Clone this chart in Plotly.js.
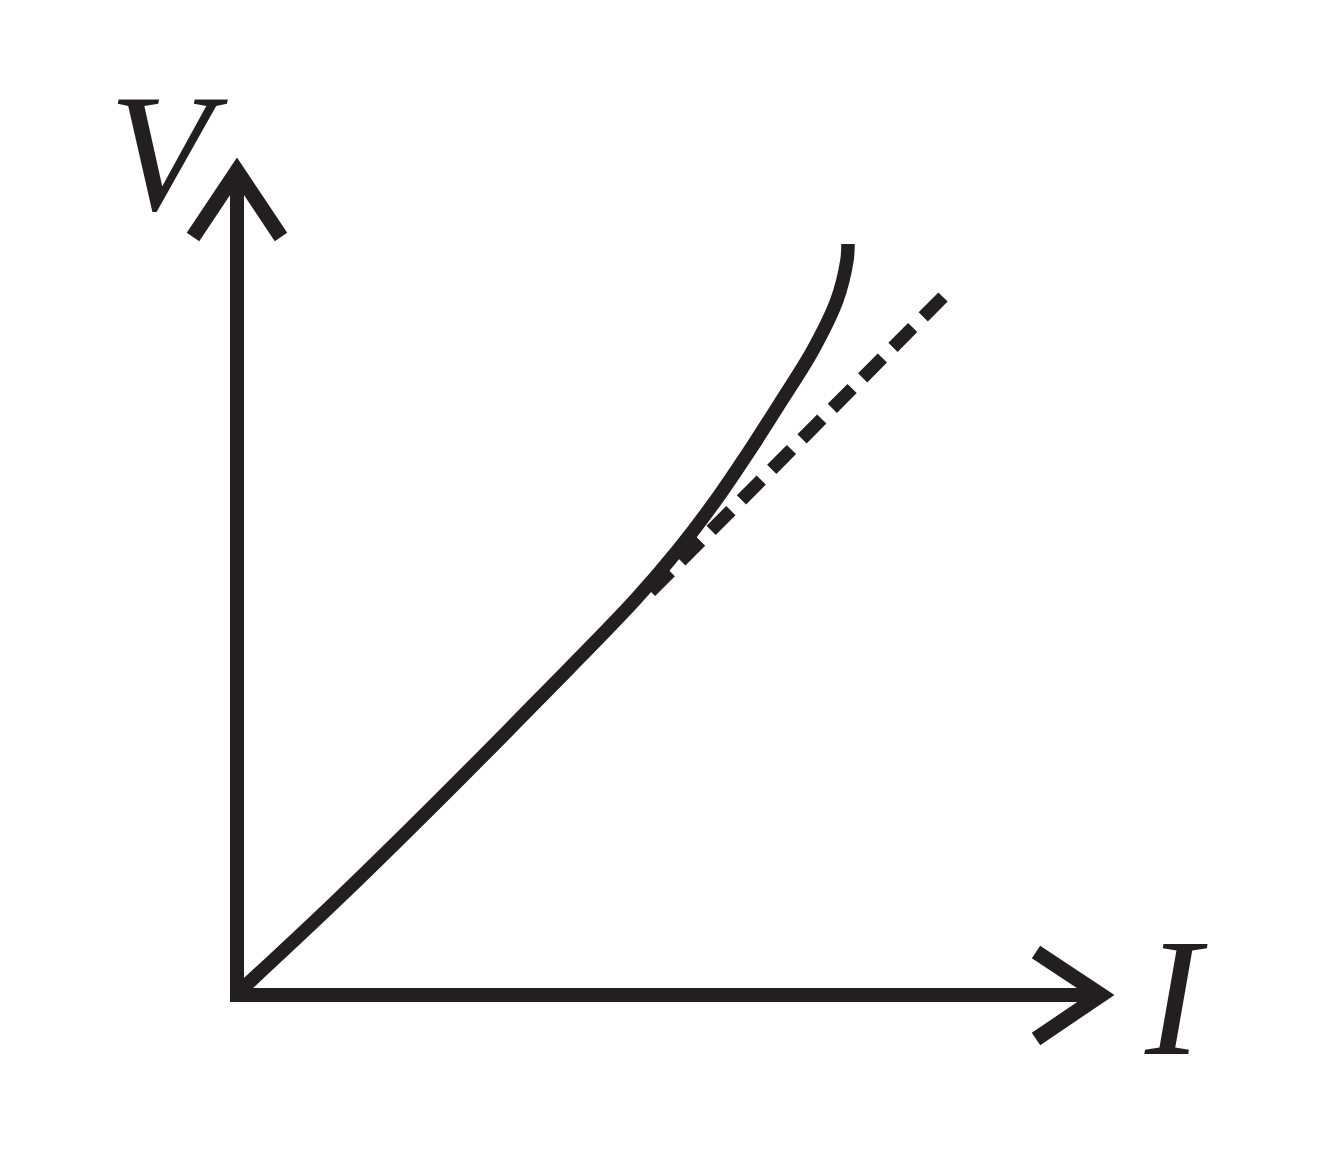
<!DOCTYPE html>
<html>
<head>
<meta charset="utf-8">
<script src="https://cdn.plot.ly/plotly-3.0.1.min.js"></script>
<style>
  html, body { margin: 0; padding: 0; background: #fff; }
  #chart { width: 1344px; height: 1160px; }
</style>
</head>
<body>
<div id="chart"></div>
<script>
// V-I curve (current I on x, voltage V on y), origin at the axes corner
const curveI = [4, 100, 202, 301, 398, 441, 479, 513, 545, 576, 600, 610, 611];
const curveV = [5, 95, 195, 295, 395, 445, 495, 545, 595, 645, 695, 735, 751];

// straight (ohmic) extension, drawn dashed, listed from its upper end
const tangentI = [706, 408];
const tangentV = [698, 398];

// axes and their open arrowheads
const axisVI = [0, 0];
const axisVV = [-7, 822];
const axisII = [-7, 862];
const axisIV = [0, 0];
const arrowVI = [-44, 0, 44];
const arrowVV = [758, 824, 758];
const arrowII = [799, 864, 799];
const arrowIV = [43, 0, -44];

const ink = '#231f20';

function seg(x, y, line) {
  return {
    x: x, y: y, type: 'scatter', mode: 'lines',
    line: Object.assign({ color: ink, simplify: false }, line),
    hoverinfo: 'skip', cliponaxis: false
  };
}

const traces = [
  seg(axisVI, axisVV, { width: 14 }),
  seg(axisII, axisIV, { width: 14 }),
  seg(arrowVI, arrowVV, { width: 15 }),
  seg(arrowII, arrowIV, { width: 15 }),
  seg(curveI, curveV, { width: 13.5, shape: 'spline', smoothing: 1 }),
  seg(tangentI, tangentV, { width: 13, dash: '28px,15px' })
];

const layout = {
  width: 1344,
  height: 1160,
  margin: { l: 0, r: 0, t: 0, b: 0 },
  paper_bgcolor: '#fff',
  plot_bgcolor: '#fff',
  showlegend: false,
  xaxis: { range: [-237, 1107], visible: false, fixedrange: true },
  yaxis: { range: [-165, 995], visible: false, fixedrange: true },
  annotations: [
    {
      text: '<i>V</i>', x: -69, y: 843, xref: 'x', yref: 'y',
      showarrow: false, xanchor: 'center', yanchor: 'middle',
      font: { family: 'Liberation Serif, serif', size: 168, color: ink }
    },
    {
      text: '<i>I</i>', x: 939, y: -2, xref: 'x', yref: 'y',
      showarrow: false, xanchor: 'center', yanchor: 'middle',
      font: { family: 'Liberation Serif, serif', size: 168, color: ink }
    }
  ]
};

Plotly.newPlot('chart', traces, layout, { staticPlot: true, displayModeBar: false });
</script>
</body>
</html>
